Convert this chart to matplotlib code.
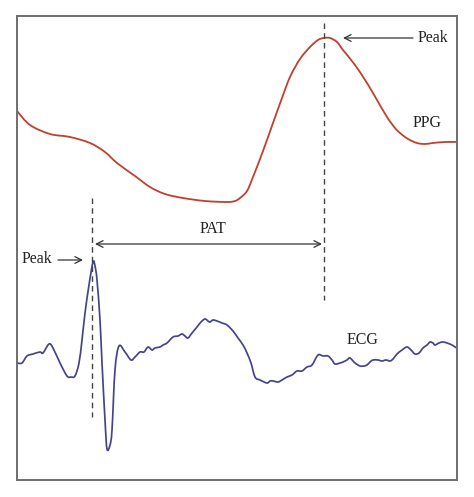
import matplotlib
matplotlib.use("Agg")
import matplotlib.pyplot as plt
from matplotlib.path import Path
from matplotlib.patches import PathPatch
import numpy as np

# PPG waveform (time, amplitude) (pixel-like units, y grows downward)
ppg_t = [17, 30, 50, 70, 90, 105, 117, 135, 150, 165, 183, 205, 227, 235, 240, 247, 253, 263, 273, 282,
         290, 300, 310, 318, 324, 330, 337, 343, 355, 367, 377, 387, 395, 400, 408, 417, 425, 433, 445, 457]
ppg_v = [111, 125, 134, 137, 143, 152, 163, 176, 187, 194, 198, 201, 202, 201, 198, 191, 177, 151, 123, 98,
         77, 59, 47, 40, 38, 38, 42, 50, 65, 83, 100, 117, 128, 133, 139, 143, 144, 143, 142, 142]

# ECG waveform
ecg_t = [17, 22, 27, 33, 40, 43, 49, 53, 60, 67, 71, 75, 79, 82, 85, 89, 93, 95, 97, 100, 102, 105, 107,
         110, 112, 115, 119, 125, 131, 135, 140, 144, 148, 152, 155, 160, 163, 167, 173, 178, 182, 185, 188,
         192, 197, 201, 205, 208, 210, 213, 217, 222, 227, 233, 238, 243, 247, 251, 255, 260, 267, 270, 273,
         278, 282, 287, 292, 297, 302, 307, 312, 318, 323, 328, 332, 335, 340, 343, 347, 350, 355, 360, 364,
         367, 370, 373, 378, 382, 386, 390, 393, 397, 402, 407, 411, 415, 419, 423, 427, 430, 433, 435, 439,
         443, 447, 452, 455, 457]
ecg_v = [363, 363, 356, 354, 352, 353, 344, 348, 363, 376, 377, 376, 363, 340, 313, 285, 262, 266, 280, 320,
         363, 420, 449, 445, 430, 370, 346, 352, 360, 357, 352, 352, 347, 350, 348, 347, 345, 343, 337, 336,
         334, 336, 338, 333, 327, 322, 319, 321, 322, 320, 321, 323, 325, 331, 338, 345, 353, 363, 377, 380,
         383, 381, 381, 382, 380, 377, 375, 371, 371, 367, 365, 355, 356, 356, 360, 364, 363, 362, 360, 358,
         363, 366, 366, 365, 362, 360, 360, 361, 360, 361, 359, 354, 350, 347, 350, 354, 353, 348, 345, 342,
         343, 345, 343, 342, 343, 345, 347, 348]

ppg_peak_t = 324
ecg_peak_t = 92


def smooth_path(xs, ys):
    """Bezier path passing through the data points (Catmull-Rom handles)."""
    p = np.column_stack([xs, ys]).astype(float)
    verts = [p[0]]
    codes = [Path.MOVETO]
    n = len(p)
    for i in range(n - 1):
        p0 = p[i - 1] if i > 0 else p[i]
        p1 = p[i]
        p2 = p[i + 1]
        p3 = p[i + 2] if i + 2 < n else p[i + 1]
        c1 = p1 + (p2 - p0) / 6.0
        c2 = p2 - (p3 - p1) / 6.0
        verts += [c1, c2, p2]
        codes += [Path.CURVE4] * 3
    return Path(verts, codes)


fig = plt.figure(figsize=(4.74, 4.97), dpi=100)
ax = fig.add_axes([17/474, 1-480/497, 440/474, 464/497])
ax.set_xlim(17, 457)
ax.set_ylim(480, 16)
ax.set_xticks([])
ax.set_yticks([])
for s in ax.spines.values():
    s.set_color('#6e6e6e')
    s.set_linewidth(1.4)

ax.add_patch(PathPatch(smooth_path(ppg_t, ppg_v), fill=False, edgecolor='#c0402c', lw=1.3,
                       joinstyle='round', capstyle='round'))
ax.add_patch(PathPatch(smooth_path(ecg_t, ecg_v), fill=False, edgecolor='#44448e', lw=1.25,
                       joinstyle='round', capstyle='round'))

ax.plot([ppg_peak_t, ppg_peak_t], [23, 300], color='#444444', lw=1.0, ls=(0, (4, 3)))
ax.plot([ecg_peak_t, ecg_peak_t], [198, 417], color='#444444', lw=1.0, ls=(0, (4, 3)))

font = dict(family='Liberation Serif', fontsize=11.5, color='#222222')
arrow = dict(arrowstyle='->', color='#333333', lw=0.9, mutation_scale=12, shrinkA=0, shrinkB=0)

ax.annotate('', xy=(343, 38), xytext=(413, 38), arrowprops=arrow)
ax.text(418, 38, 'Peak', ha='left', va='center', **font)
ax.text(427, 123, 'PPG', ha='center', va='center', **font)

ax.annotate('', xy=(95, 244), xytext=(322, 244),
            arrowprops=dict(arrowstyle='<->', color='#333333', lw=0.9, mutation_scale=12, shrinkA=0, shrinkB=0))
ax.text(213, 229, 'PAT', ha='center', va='center', **font)

ax.annotate('', xy=(83, 260), xytext=(58, 260), arrowprops=arrow)
ax.text(22, 259, 'Peak', ha='left', va='center', **font)
ax.text(363, 340, 'ECG', ha='center', va='center', **font)

fig.savefig('out.png', dpi=100)
